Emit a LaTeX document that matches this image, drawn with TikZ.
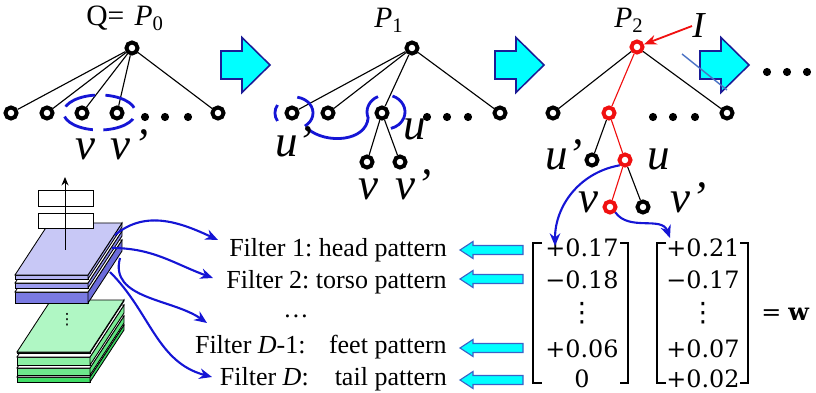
\documentclass[tikz,border=0pt]{standalone}
\usepackage{fontspec}
\setmainfont{Liberation Serif}
\newfontfamily\weightfont{DejaVu Serif}
\newfontfamily\symbolfont{DejaVu Sans}
\frenchspacing
\definecolor{stepcyan}{HTML}{00FFFF}
\definecolor{stepnavy}{HTML}{1C1C96}
\definecolor{backedge}{HTML}{3A62C8}
\definecolor{linkblue}{HTML}{1515D5}
\definecolor{straypen}{HTML}{4A72C4}
\definecolor{pathred}{HTML}{F01010}
\definecolor{convtop}{HTML}{C8C8F6}
\definecolor{convhigh}{HTML}{B4B4F2}
\definecolor{convhighside}{HTML}{A0A0EC}
\definecolor{convmid}{HTML}{9C9CEE}
\definecolor{convmidside}{HTML}{8C8CE6}
\definecolor{convlow}{HTML}{7A7AE2}
\definecolor{convlowside}{HTML}{6C6CDA}
\definecolor{gridtop}{HTML}{B0F7C4}
\definecolor{gridhigh}{HTML}{8CF0A4}
\definecolor{gridhighside}{HTML}{7AEA94}
\definecolor{gridmid}{HTML}{6EE88C}
\definecolor{gridmidside}{HTML}{5EE27E}
\definecolor{gridlow}{HTML}{40DC66}
\definecolor{gridlowside}{HTML}{38D25E}
\usetikzlibrary{arrows.meta,positioning}

% one thin layer of the conv block: x, y (front bottom left), height, front, side, top
\newcommand{\convslab}[6]{%
  \filldraw[line width=0.6pt,fill=#4] (#1,#2) rectangle ++(73,#3);
  \filldraw[line width=0.6pt,fill=#5] (#1+73,#2) -- ++(34,52) -- ++(0,#3) -- ++(-34,-52) -- cycle;
  \filldraw[line width=0.6pt,fill=#6] (#1,#2+#3) -- ++(73,0) -- ++(34,52) -- ++(-73,0) -- cycle;}

\tikzset{
    treenode/.style={
        circle,
        draw=black,
        fill=white,
        line width=2.8pt,
        minimum size=7.9pt,
        inner sep=0pt
    },
    pathnode/.style={
        treenode,
        draw=pathred
    },
    treedot/.style={
        circle,
        fill=black,
        minimum size=5.8pt,
        inner sep=0pt
    },
    treeedge/.style={
        draw=black,
        line width=0.8pt
    },
    pathedge/.style={
        draw=pathred,
        line width=0.8pt
    },
    treelabel/.style={
        anchor=base west,
        inner sep=0pt,
        font=\fontsize{32}{32}\selectfont\itshape
    },
    titlelabel/.style={
        anchor=base west,
        inner sep=0pt,
        font=\fontsize{21}{21}\selectfont
    },
    swaparc/.style={
        draw=linkblue,
        line width=2pt
    },
    linkarrow/.style={
        -{Stealth[length=9pt,width=7.5pt]},
        draw=linkblue,
        line width=1.5pt
    },
    redarrow/.style={
        -{Stealth[length=9pt,width=7pt]},
        draw=pathred,
        line width=1.3pt
    },
    flowup/.style={
        -{Stealth[length=6pt,width=5pt]},
        draw=black,
        line width=0.7pt
    },
    fcbox/.style={
        draw=black,
        fill=white,
        line width=0.6pt,
        minimum width=39pt,
        minimum height=11pt,
        inner sep=0pt
    },
    stepfill/.style={
        fill=stepcyan,
        draw=stepnavy,
        line width=1.1pt
    },
    backfill/.style={
        fill=stepcyan,
        draw=backedge,
        line width=0.8pt
    },
    filterlabel/.style={
        anchor=base east,
        inner sep=0pt,
        font=\fontsize{18.5}{22}\selectfont
    },
    weightentry/.style={
        anchor=base,
        inner sep=0pt,
        font=\weightfont\fontsize{17}{20}\selectfont
    },
    weightdots/.style={
        inner sep=0pt,
        font=\symbolfont\fontsize{19}{20}\selectfont
    },
    matbracket/.style={
        draw=black,
        line width=1.1pt
    },
    stepnext/.pic={
        \draw[stepfill] (0,-14) -- (21,-14) -- (21,-27.5) -- (49,0)
            -- (21,27.5) -- (21,14) -- (0,14) -- cycle;
    },
    stepback/.pic={
        \draw[backfill] (0,0) -- (13,8.5) -- (13,4.5) -- (63,4.5)
            -- (63,-4.5) -- (13,-4.5) -- (13,-8.5) -- cycle;
    }
}

\begin{document}
\begin{tikzpicture}[x=0.025cm,y=0.025cm]
    \useasboundingbox (0,0) rectangle (816,-393);

    % tree P0
    \node[titlelabel] (title0) at (86,-26) {Q=\hspace{0.35em}\textit{P}\textsubscript{0}};
    \node[treenode] (t1r) at (132,-48) {};
    \node[treenode] (t1a) at (11,-113) {};
    \node[treenode] (t1b) at (47,-113) {};
    \node[treenode] (t1c) at (82,-113) {};
    \node[treenode] (t1d) at (117,-113) {};
    \node[treenode] (t1e) at (218,-113) {};
    \foreach \dx [count=\i] in {145,165,188}
        \node[treedot] (t1dot\i) at (\dx,-117) {};
    \draw[treeedge] (t1r) -- (t1a);
    \draw[treeedge] (t1r) -- (t1b);
    \draw[treeedge] (t1r) -- (t1c);
    \draw[treeedge] (t1r) -- (t1d);
    \draw[treeedge] (t1r) -- (t1e);
    \draw[swaparc,dash pattern=on 23pt off 7.5pt,dash phase=27pt]
        (99.5,-112.5) ellipse [x radius=36,y radius=17.5];
    \node[treelabel] (t1v) at (75,-160) {v};
    \node[treelabel] (t1w) at (110,-160) {v\hspace{2pt}'};

    \pic at (221,-65) {stepnext};

    % tree P1
    \node[titlelabel] (title1) at (374,-28) {\textit{P}\textsubscript{1}};
    \node[treenode] (t2r) at (412,-48) {};
    \node[treenode] (t2a) at (292,-113) {};
    \node[treenode] (t2b) at (328,-113) {};
    \node[treenode] (t2c) at (382,-113) {};
    \node[treenode] (t2d) at (500,-113) {};
    \node[treenode] (t2e) at (367,-162) {};
    \node[treenode] (t2f) at (400,-162) {};
    \foreach \dx [count=\i] in {427,447,468}
        \node[treedot] (t2dot\i) at (\dx,-117) {};
    \draw[treeedge] (t2r) -- (t2a);
    \draw[treeedge] (t2r) -- (t2b);
    \draw[treeedge] (t2r) -- (t2c);
    \draw[treeedge] (t2r) -- (t2d);
    \draw[treeedge] (t2c) -- (t2e);
    \draw[treeedge] (t2c) -- (t2f);
    \draw[swaparc] (277.5,-105)
        arc[start angle=150,end angle=210,x radius=19,y radius=16];
    \draw[swaparc] (297.3,-97.2)
        arc[start angle=80,end angle=-55,x radius=19,y radius=16];
    \draw[swaparc] (308,-129) to[out=-40,in=-95] (368.15,-117.8)
        arc[start angle=200,end angle=115,x radius=19,y radius=17];
    \draw[swaparc] (392.5,-96)
        arc[start angle=70,end angle=-75,x radius=19,y radius=17];
    \node[treelabel] (t2ulabel) at (275,-157) {u'};
    \node[treelabel] (t2u) at (403,-140) {u};
    \node[treelabel] (t2v) at (358,-200) {v};
    \node[treelabel] (t2w) at (395,-200) {v\hspace{1pt}'};

    \pic at (495,-65) {stepnext};

    % tree P2
    \node[titlelabel] (title2) at (614,-28) {\textit{P}\textsubscript{2}};
    \node[pathnode] (t3r) at (637,-47) {};
    \node[treenode] (t3a) at (553,-113) {};
    \node[pathnode] (t3b) at (609,-113) {};
    \node[treenode] (t3c) at (727,-113) {};
    \node[treenode] (t3d) at (592,-160) {};
    \node[pathnode] (t3e) at (625,-160) {};
    \node[pathnode] (t3f) at (610,-207) {};
    \node[treenode] (t3g) at (643,-207) {};
    \foreach \dx [count=\i] in {653,673,695}
        \node[treedot] (t3dot\i) at (\dx,-117) {};
    \draw[treeedge] (t3r) -- (t3a);
    \draw[treeedge] (t3r) -- (t3c);
    \draw[treeedge] (t3b) -- (t3d);
    \draw[treeedge] (t3e) -- (t3g);
    \draw[pathedge] (t3r) -- (t3b);
    \draw[pathedge] (t3b) -- (t3e);
    \draw[pathedge] (t3e) -- (t3f);
    \node[treelabel] (t3ulabel) at (545,-170) {u'};
    \node[treelabel] (t3u) at (647,-170) {u};
    \node[treelabel] (t3v) at (578,-213) {v};
    \node[treelabel] (t3w) at (670,-213) {v\hspace{1pt}'};
    \node[treelabel,font=\fontsize{26}{26}\selectfont\itshape] (ilabel) at (692,-38) {I};
    \draw[redarrow] (ilabel.west) -- (t3r);

    \pic at (700,-65) {stepnext};
    \draw[straypen,line width=1pt] (682,-54) -- (727,-90);
    \foreach \dx [count=\i] in {767,787,807}
        \node[treedot] (moredot\i) at (\dx,-72) {};

    % conv layers
    \convslab{17}{-382}{5}{gridlow}{gridlowside}{white}
    \convslab{17}{-375}{7}{gridmid}{gridmidside}{white}
    \convslab{17}{-365}{8}{gridhigh}{gridhighside}{white}
    \convslab{17}{-353}{1}{gridtop}{gridtop}{gridtop}
    \node[inner sep=0pt,font=\symbolfont\fontsize{11}{12}\selectfont] (griddots) at (67,-320) {⋮};
    \convslab{15}{-303}{11}{convlow}{convlowside}{white}
    \convslab{15}{-288}{5}{convmid}{convmidside}{white}
    \convslab{15}{-279}{4}{convhigh}{convhighside}{convtop}

    \node[fcbox] (fc1) at (65.5,-198.5) {};
    \node[fcbox] (fc2) at (65.5,-221) {};
    \coordinate (convout) at (65,-250);
    \coordinate (fcout) at (65,-177);
    \draw[flowup] (convout) -- (fcout);

    % filters
    \node[filterlabel] (filt1) at (447,-257) {Filter 1: head pattern};
    \node[filterlabel] (filt2) at (447,-288) {Filter 2: torso pattern};
    \node[inner sep=0pt,font=\fontsize{18}{22}\selectfont] (filtdots) at (296,-316) {\ldots};
    \node[filterlabel] (filtpen) at (447,-353) {Filter \textit{D}-1:\hspace{0.9em}feet pattern};
    \node[filterlabel] (filtlast) at (447,-385) {Filter \textit{D}:\hspace{1em}tail pattern};

    \coordinate (side1) at (115,-235);
    \coordinate (side2) at (112,-248);
    \coordinate (side3) at (120,-258);
    \coordinate (side4) at (110,-272);
    \coordinate (hit1) at (218,-240);
    \coordinate (hit2) at (213,-278);
    \coordinate (hit3) at (207,-323);
    \coordinate (hit4) at (212,-377);
    \draw[linkarrow] (side1) to[out=40,in=155] (hit1);
    \draw[linkarrow] (side2) to[out=0,in=160] (hit2);
    \draw[linkarrow] (side3) to[out=-105,in=145] (hit3);
    \draw[linkarrow] (side4) to[out=-45,in=165] (hit4);

    \foreach \ry in {250,279,348,380}
        \pic at (460,-\ry) {stepback};

    % weight vectors
    \node[weightentry] (m11) at (582,-257) {+0.17};
    \node[weightentry] (m12) at (582,-288) {−0.18};
    \node[weightdots] (m13) at (582,-313) {⋮};
    \node[weightentry] (m14) at (582,-357) {+0.06};
    \node[weightentry] (m15) at (582,-387) {0};
    \node[weightentry] (m21) at (703,-257) {+0.21};
    \node[weightentry] (m22) at (703,-288) {−0.17};
    \node[weightdots] (m23) at (703,-313) {⋮};
    \node[weightentry] (m24) at (703,-357) {+0.07};
    \node[weightentry] (m25) at (703,-387) {+0.02};
    \draw[matbracket] (542,-243) -- (533,-243) -- (533,-383) -- (542,-383);
    \draw[matbracket] (620,-243) -- (628,-243) -- (628,-383) -- (620,-383);
    \draw[matbracket] (666,-243) -- (657,-243) -- (657,-383) -- (666,-383);
    \draw[matbracket] (740,-243) -- (748,-243) -- (748,-383) -- (740,-383);
    \node[weightentry,anchor=base west,font=\weightfont\fontsize{17}{20}\selectfont]
        (wvec) at (761,-320) {=\hspace{0.3em}\textbf{w}};

    \coordinate (hitw1) at (555,-246);
    \coordinate (hitw2) at (670,-238);
    \draw[linkarrow] (t3e.south west) to[out=190,in=90] (hitw1);
    \draw[linkarrow] (t3f.south east) to[out=-55,in=110] (hitw2);
\end{tikzpicture}
\end{document}
